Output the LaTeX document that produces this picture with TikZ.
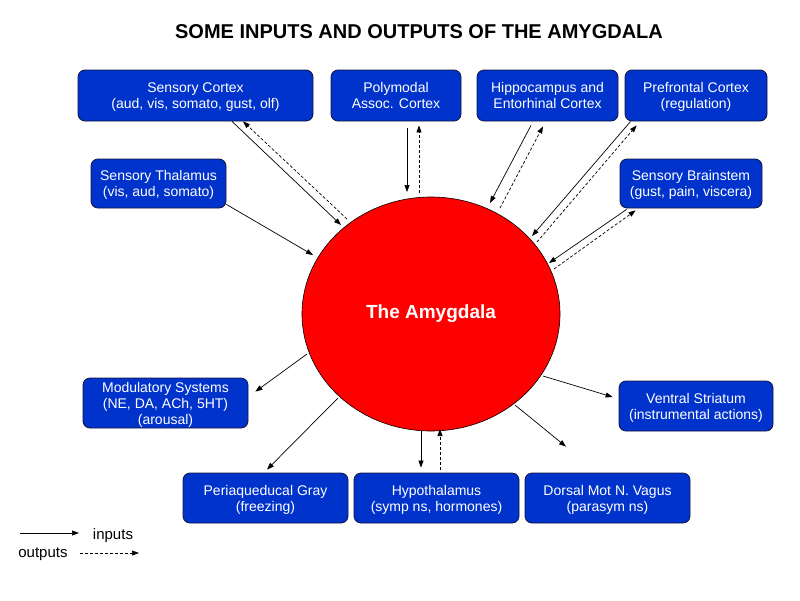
\documentclass[tikz,border=0pt]{standalone}
\usepackage{fontspec}
\setmainfont{Liberation Sans}
\usetikzlibrary{arrows.meta,shapes.geometric}
\definecolor{boxblue}{RGB}{0,51,204}
\definecolor{boxedge}{RGB}{20,20,60}
\definecolor{amyred}{RGB}{255,0,0}
\tikzset{
  region/.style={draw=boxedge, line width=0.8pt, fill=boxblue, rounded corners=7pt,
    text=white, align=center, inner sep=0pt, text depth=-1pt, font=\fontsize{14}{16}\selectfont},
  inarrow/.style={line width=0.7pt, -{Triangle[length=7pt,width=5pt]}},
  outarrow/.style={line width=0.7pt, dash pattern=on 3pt off 2pt, -{Triangle[length=7pt,width=5pt]}}
}
\begin{document}
\begin{tikzpicture}[x=1pt,y=-1pt]
\useasboundingbox (0,0) rectangle (800,600);
\fill[white] (0,0) rectangle (800,600);

\node[font=\fontsize{20}{24}\selectfont\bfseries] (title) at (419,32) {SOME INPUTS AND OUTPUTS OF THE AMYGDALA};

\node[ellipse, draw=black, line width=0.6pt, fill=amyred, minimum width=258pt, minimum height=234pt, inner sep=0pt,
  text=white, font=\fontsize{19}{22}\selectfont\bfseries] (amy) at (431,314) {The Amygdala};

\node[region, minimum width=235pt, minimum height=51pt] (sc) at (195.5,95.5) {Sensory Cortex\\(aud, vis, somato, gust, olf)};
\node[region, minimum width=130pt, minimum height=51pt] (pm) at (396,95.5) {Polymodal\\Assoc. Cortex};
\node[region, minimum width=141pt, minimum height=51pt] (hc) at (547.5,95.5) {Hippocampus and\\Entorhinal Cortex};
\node[region, minimum width=142pt, minimum height=51pt] (pf) at (696,95.5) {Prefrontal Cortex\\(regulation)};
\node[region, minimum width=135pt, minimum height=49pt] (st) at (158.5,183.5) {Sensory Thalamus\\(vis, aud, somato)};
\node[region, minimum width=142pt, minimum height=49pt] (sb) at (691,183.5) {Sensory Brainstem\\(gust, pain, viscera)};
\node[region, minimum width=165pt, minimum height=50pt] (ms) at (165.5,403) {Modulatory Systems\\(NE, DA, ACh, 5HT)\\(arousal)};
\node[region, minimum width=165pt, minimum height=50pt] (pag) at (265.5,498) {Periaquedu{}cal Gray\\(freezing)};
\node[region, minimum width=165pt, minimum height=50pt] (hy) at (436.5,498) {Hypothalamus\\(symp ns, hormones)};
\node[region, minimum width=165pt, minimum height=50pt] (dm) at (607.5,498) {Dorsal Mot N. Vagus\\(parasym ns)};
\node[region, minimum width=154pt, minimum height=50pt] (vs) at (696,406) {Ventral Striatum\\(instrumental actions)};

% Sensory cortex
\draw[inarrow] ([shift={(36.5,0)}]sc.south) -- ([shift={(-90,-89)}]amy.center);
\draw[outarrow] ([shift={(-84,-95)}]amy.center) -- ([shift={(47.5,0)}]sc.south);
% Polymodal
\draw[inarrow] ([shift={(11,7)}]pm.south) -- ([shift={(-24,-122)}]amy.center);
\draw[outarrow] ([shift={(-12,-121)}]amy.center) -- ([shift={(23,4)}]pm.south);
% Sensory thalamus
\draw[inarrow] ([shift={(0,-4)}]st.south east) -- ([shift={(-118,-59)}]amy.center);
% Hippocampus
\draw[inarrow] ([shift={(-16.5,4)}]hc.south) -- ([shift={(59,-111)}]amy.center);
\draw[outarrow] ([shift={(69,-106)}]amy.center) -- ([shift={(-4.5,5)}]hc.south);
% Prefrontal
\draw[inarrow] ([shift={(6,0)}]pf.south west) -- ([shift={(101,-78)}]amy.center);
\draw[outarrow] ([shift={(106,-72)}]amy.center) -- ([shift={(12,4)}]pf.south west);
% Sensory brainstem
\draw[inarrow] ([shift={(7,1)}]sb.south west) -- ([shift={(118,-51)}]amy.center);
\draw[outarrow] ([shift={(123,-45)}]amy.center) -- ([shift={(16,2)}]sb.south west);
% Modulatory
\draw[inarrow] ([shift={(-124,40)}]amy.center) -- ([shift={(7,14)}]ms.north east);
% PAG
\draw[inarrow] ([shift={(-93,84)}]amy.center) -- ([shift={(1.5,-3)}]pag.north);
% Hypothalamus
\draw[inarrow] ([shift={(-10,117)}]amy.center) -- ([shift={(-15.5,-5)}]hy.north);
\draw[outarrow] ([shift={(3.5,-3)}]hy.north) -- ([shift={(9,115)}]amy.center);
% Ventral striatum
\draw[inarrow] ([shift={(112,62)}]amy.center) -- ([shift={(-6,-9)}]vs.west);
% Dorsal motor nucleus
\draw[inarrow] ([shift={(84,91)}]amy.center) -- ([shift={(-41.5,-26)}]dm.north);

% Legend
\coordinate (lina) at (20,533);
\coordinate (linb) at (79,533);
\coordinate (louta) at (80,553);
\coordinate (loutb) at (139,553);
\draw[inarrow] (lina) -- (linb);
\draw[outarrow] (louta) -- (loutb);
\node[font=\fontsize{15}{18}\selectfont, inner sep=0pt] (linputs) at (113,536) {inputs};
\node[font=\fontsize{15}{18}\selectfont, inner sep=0pt] (loutputs) at (43,554) {outputs};
\end{tikzpicture}
\end{document}
